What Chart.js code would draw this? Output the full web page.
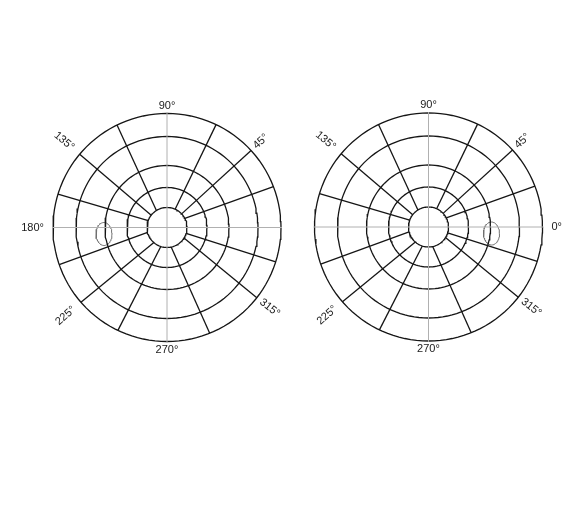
<!DOCTYPE html>
<html>
<head>
<meta charset="utf-8">
<script src="https://cdn.jsdelivr.net/npm/chart.js@4.4.1/dist/chart.umd.min.js"></script>
<style>
    html, body { margin: 0; padding: 0; background: #fff; }
    #wrap { position: relative; width: 580px; height: 530px; }
    canvas { position: absolute; top: 0; }
    #leftField { left: 0; }
    #rightField { left: 290px; }
</style>
</head>
<body>
<div id="wrap">
    <canvas id="leftField" width="290" height="530"></canvas>
    <canvas id="rightField" width="290" height="530"></canvas>
</div>
<script>
// concentric rings, in chart units (1 unit = 1 px at this size)
const ringRadii = [20, 40, 62, 91, 114];

// meridian spokes: angle where each leaves the centre ring, and where it meets the rim (deg)
const spokeInnerAngles = [27, 43, 66, 122, 142, 160, 194, 229, 252, 282, 328, 343];
const spokeOuterAngles = [21, 42.5, 64.5, 116, 140, 163, 199, 221, 244.5, 292, 322, 342.5];

// thin grey cross through the centre
const axisAngles = [0, 90, 180, 270];

// blind spot: centre x, centre y, half width, half height
const leftBlindSpot = [-63, -6.5, 8, 11.5];
const rightBlindSpot = [63, -6.5, 8, 11.5];

const leftLabels = ['90°', '45°', '135°', '180°', '225°', '270°', '315°'];
const rightLabels = ['90°', '45°', '135°', '0°', '225°', '270°', '315°'];

const rad = d => d * Math.PI / 180;

function circlePoints(r) {
    const pts = [];
    for (let a = 0; a <= 360; a += 3) {
        pts.push({ x: r * Math.cos(rad(a)), y: r * Math.sin(rad(a)) });
    }
    return pts;
}

function ellipsePoints(spot) {
    const pts = [];
    for (let a = 0; a <= 360; a += 6) {
        pts.push({ x: spot[0] + spot[2] * Math.cos(rad(a)), y: spot[1] + spot[3] * Math.sin(rad(a)) });
    }
    return pts;
}

function lineStyle(color, width) {
    return { showLine: true, borderColor: color, borderWidth: width, pointRadius: 0, fill: false, tension: 0, clip: false };
}

// labels are drawn outside the rim, along the spoke nearest their meridian
const meridianLabels = {
    id: 'meridianLabels',
    afterDatasetsDraw(chart, args, opts) {
        const { ctx, scales: { x, y } } = chart;
        const rim = ringRadii[ringRadii.length - 1];
        ctx.save();
        ctx.font = '11px "Liberation Sans", Arial, sans-serif';
        ctx.fillStyle = '#1a1a1a';
        ctx.textAlign = 'center';
        ctx.textBaseline = 'middle';
        opts.labels.forEach(text => {
            const nominal = parseFloat(text);
            let ang = nominal;
            spokeOuterAngles.forEach(s => {
                if (Math.abs(s - nominal) < 10) ang = s;
            });
            const halfW = ctx.measureText(text).width / 2;
            const c = Math.cos(rad(ang)), s = Math.sin(rad(ang));
            let r, rot = 0;
            if (nominal % 90 === 0) {
                r = rim + 3 + 6 * Math.abs(c) + halfW * Math.abs(c) + 5 * Math.abs(s);
            } else {
                // left-hand labels sit a little further out than right-hand ones
                r = rim + (c > 0 ? 5 : 9) + halfW;
                rot = c > 0 ? -ang : 180 - ang;
            }
            const px = x.getPixelForValue(r * c);
            const py = y.getPixelForValue(r * s);
            ctx.save();
            ctx.translate(px, py);
            ctx.rotate(rad(rot));
            ctx.fillText(text, 0, 0);
            ctx.restore();
        });
        ctx.restore();
    }
};

function makeField(canvasId, cx, cy, blindSpot, labels) {
    const canvas = document.getElementById(canvasId);
    const w = canvas.width, h = canvas.height;
    const rim = ringRadii[ringRadii.length - 1];
    const datasets = [];

    axisAngles.forEach(a => {
        datasets.push(Object.assign({
            data: [{ x: 0, y: 0 }, { x: (rim + 1) * Math.cos(rad(a)), y: (rim + 1) * Math.sin(rad(a)) }]
        }, lineStyle('#b0b0b0', 1)));
    });

    ringRadii.forEach(r => {
        datasets.push(Object.assign({ data: circlePoints(r) }, lineStyle('#151515', 1.3)));
    });

    const inner = ringRadii[0];
    spokeInnerAngles.forEach((a, i) => {
        const b = spokeOuterAngles[i];
        datasets.push(Object.assign({
            data: [
                { x: inner * Math.cos(rad(a)), y: inner * Math.sin(rad(a)) },
                { x: rim * Math.cos(rad(b)), y: rim * Math.sin(rad(b)) }
            ]
        }, lineStyle('#151515', 1.3)));
    });

    datasets.push(Object.assign({ data: ellipsePoints(blindSpot) }, lineStyle('#707070', 1)));

    return new Chart(canvas, {
        type: 'scatter',
        data: { datasets: datasets },
        plugins: [meridianLabels],
        options: {
            responsive: false,
            animation: false,
            events: [],
            layout: { padding: 0 },
            plugins: {
                legend: { display: false },
                tooltip: { enabled: false },
                meridianLabels: { labels: labels }
            },
            scales: {
                x: { type: 'linear', display: false, min: -cx, max: w - cx },
                y: { type: 'linear', display: false, min: -(h - cy), max: cy }
            }
        }
    });
}

makeField('leftField', 167, 227.5, leftBlindSpot, leftLabels);
makeField('rightField', 138.5, 227, rightBlindSpot, rightLabels);
</script>
</body>
</html>
